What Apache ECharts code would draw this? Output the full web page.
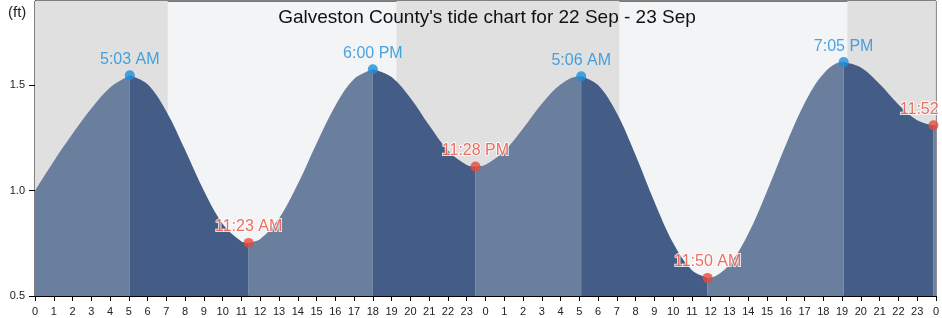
<!DOCTYPE html>
<html>
<head>
<meta charset="utf-8">
<title>Galveston County tide chart</title>
<script src="https://cdn.jsdelivr.net/npm/echarts@6/dist/echarts.min.js"></script>
<style>
  html, body { margin: 0; padding: 0; background: #fff; }
  #chart { width: 942px; height: 318px; }
</style>
</head>
<body>
<div id="chart"></div>
<script>
// hourly tide heights (ft), hour 0 = 22 Sep 00:00, hour 48 = 24 Sep 00:00
const hours = [0, 1, 2, 3, 4, 5, 6, 7, 8, 9, 10, 11, 12, 13, 14, 15, 16, 17, 18, 19, 20, 21, 22, 23,
  24, 25, 26, 27, 28, 29, 30, 31, 32, 33, 34, 35, 36, 37, 38, 39, 40, 41, 42, 43, 44, 45, 46, 47, 48]
const heights = [1.00, 1.14, 1.27, 1.39, 1.49, 1.547, 1.505, 1.376, 1.193, 0.999, 0.842, 0.759,
  0.770, 0.868, 1.031, 1.224, 1.403, 1.530, 1.576, 1.539, 1.440, 1.310, 1.191, 1.122,
  1.123, 1.188, 1.295, 1.412, 1.504, 1.543, 1.501, 1.367, 1.168, 0.947, 0.751, 0.622,
  0.587, 0.650, 0.795, 0.997, 1.217, 1.415, 1.554, 1.610, 1.584, 1.506, 1.409, 1.334, 1.312]

// high and low tides
const highTimes = [5.05, 18.0, 29.1, 43.083]
const highValues = [1.548, 1.576, 1.543, 1.610]
const highLabels = ['5:03 AM', '6:00 PM', '5:06 AM', '7:05 PM']
const lowTimes = [11.383, 23.467, 35.833, 47.867]
const lowValues = [0.752, 1.114, 0.586, 1.31]
const lowLabels = ['11:23 AM', '11:28 PM', '11:50 AM', '11:52 PM']

// night periods (sunset -> sunrise)
const nights = [[0, 7.07], [19.26, 31.13], [43.28, 48]]

const yTicks = [0.5, 1.0, 1.5]

// merge hourly points and extremes
let pts = hours.map((h, i) => [h, heights[i]])
highTimes.forEach((t, i) => pts.push([t, highValues[i]]))
lowTimes.forEach((t, i) => pts.push([t, lowValues[i]]))
pts.sort((a, b) => a[0] - b[0])
const merged = []
pts.forEach(p => {
  const last = merged[merged.length - 1]
  if (last && Math.abs(last[0] - p[0]) < 0.02) {
    // keep the extreme value
    if (highTimes.includes(p[0]) || lowTimes.includes(p[0])) merged[merged.length - 1] = p
  } else {
    merged.push(p)
  }
})

// split into segments between extremes
const bounds = [0].concat(highTimes, lowTimes).sort((a, b) => a - b).concat([48])
const segSeries = []
for (let i = 0; i < bounds.length - 1; i++) {
  const a = bounds[i], b = bounds[i + 1]
  const data = merged.filter(p => p[0] >= a - 1e-6 && p[0] <= b + 1e-6)
  if (data.length < 2) continue
  const rising = data[data.length - 1][1] > data[0][1]
  const color = rising ? '#6a7e9e' : '#445d87'
  segSeries.push({
    type: 'line',
    data,
    smooth: 0.35,
    symbol: 'none',
    lineStyle: { width: 0 },
    areaStyle: { color, opacity: 1, origin: 'start' },
    z: 2,
    silent: true
  })
}

const chart = echarts.init(document.getElementById('chart'))
chart.setOption({
  animation: false,
  graphic: [
    {
      type: 'text',
      left: 8, top: 5,
      style: { text: '(ft)', font: '15px "Liberation Sans", Arial, sans-serif', fill: '#222' }
    },
    {
      type: 'text',
      x: 487, y: 18,
      style: {
        text: "Galveston County's tide chart for 22 Sep - 23 Sep",
        font: '19px "Liberation Sans", Arial, sans-serif',
        fill: '#111',
        textAlign: 'center',
        textVerticalAlign: 'middle'
      },
      z: 100
    }
  ],
  grid: {
    left: 35, right: 4, top: 1, bottom: 22,
    show: true,
    backgroundColor: '#f3f4f6',
    borderColor: '#000',
    borderWidth: 1
  },
  xAxis: {
    type: 'value',
    min: 0, max: 48, interval: 1,
    splitLine: { show: false },
    axisLine: { lineStyle: { color: '#000' } },
    axisTick: { length: 5, lineStyle: { color: '#000' } },
    axisLabel: {
      formatter: v => String(v % 24),
      fontSize: 11,
      color: '#222',
      margin: 10,
      fontFamily: '"Liberation Sans", Arial, sans-serif'
    }
  },
  yAxis: {
    type: 'value',
    min: 0.5, max: 1.9,
    splitLine: { show: false },
    axisLine: { show: true, lineStyle: { color: '#000' } },
    axisTick: { show: true, length: 6, customValues: yTicks, lineStyle: { color: '#000' } },
    axisLabel: {
      customValues: yTicks,
      formatter: v => v.toFixed(1),
      fontSize: 11,
      color: '#222',
      margin: 10,
      fontFamily: '"Liberation Sans", Arial, sans-serif'
    }
  },
  series: [
    {
      type: 'line',
      data: [],
      z: 0,
      silent: true,
      markArea: {
        silent: true,
        itemStyle: { color: '#e0e0e0' },
        data: nights.map(n => [{ xAxis: n[0] }, { xAxis: n[1] }])
      }
    },
    ...segSeries,
    {
      type: 'scatter',
      data: highTimes.map((t, i) => [t, highValues[i]]),
      symbolSize: 10,
      itemStyle: { color: '#1e8fda' },
      z: 5,
      label: {
        show: true,
        position: 'top',
        distance: 3,
        formatter: p => highLabels[p.dataIndex],
        color: '#1e8fda',
        fontSize: 16,
        fontFamily: '"Liberation Sans", Arial, sans-serif'
      }
    },
    {
      type: 'scatter',
      data: lowTimes.map((t, i) => [t, lowValues[i]]),
      symbolSize: 10,
      itemStyle: { color: '#e84a3b' },
      z: 5,
      label: {
        show: true,
        position: 'top',
        distance: 3,
        formatter: p => lowLabels[p.dataIndex],
        color: '#e84a3b',
        fontSize: 16,
        textBorderColor: '#fff',
        textBorderWidth: 2,
        fontFamily: '"Liberation Sans", Arial, sans-serif'
      }
    }
  ]
})
</script>
</body>
</html>
